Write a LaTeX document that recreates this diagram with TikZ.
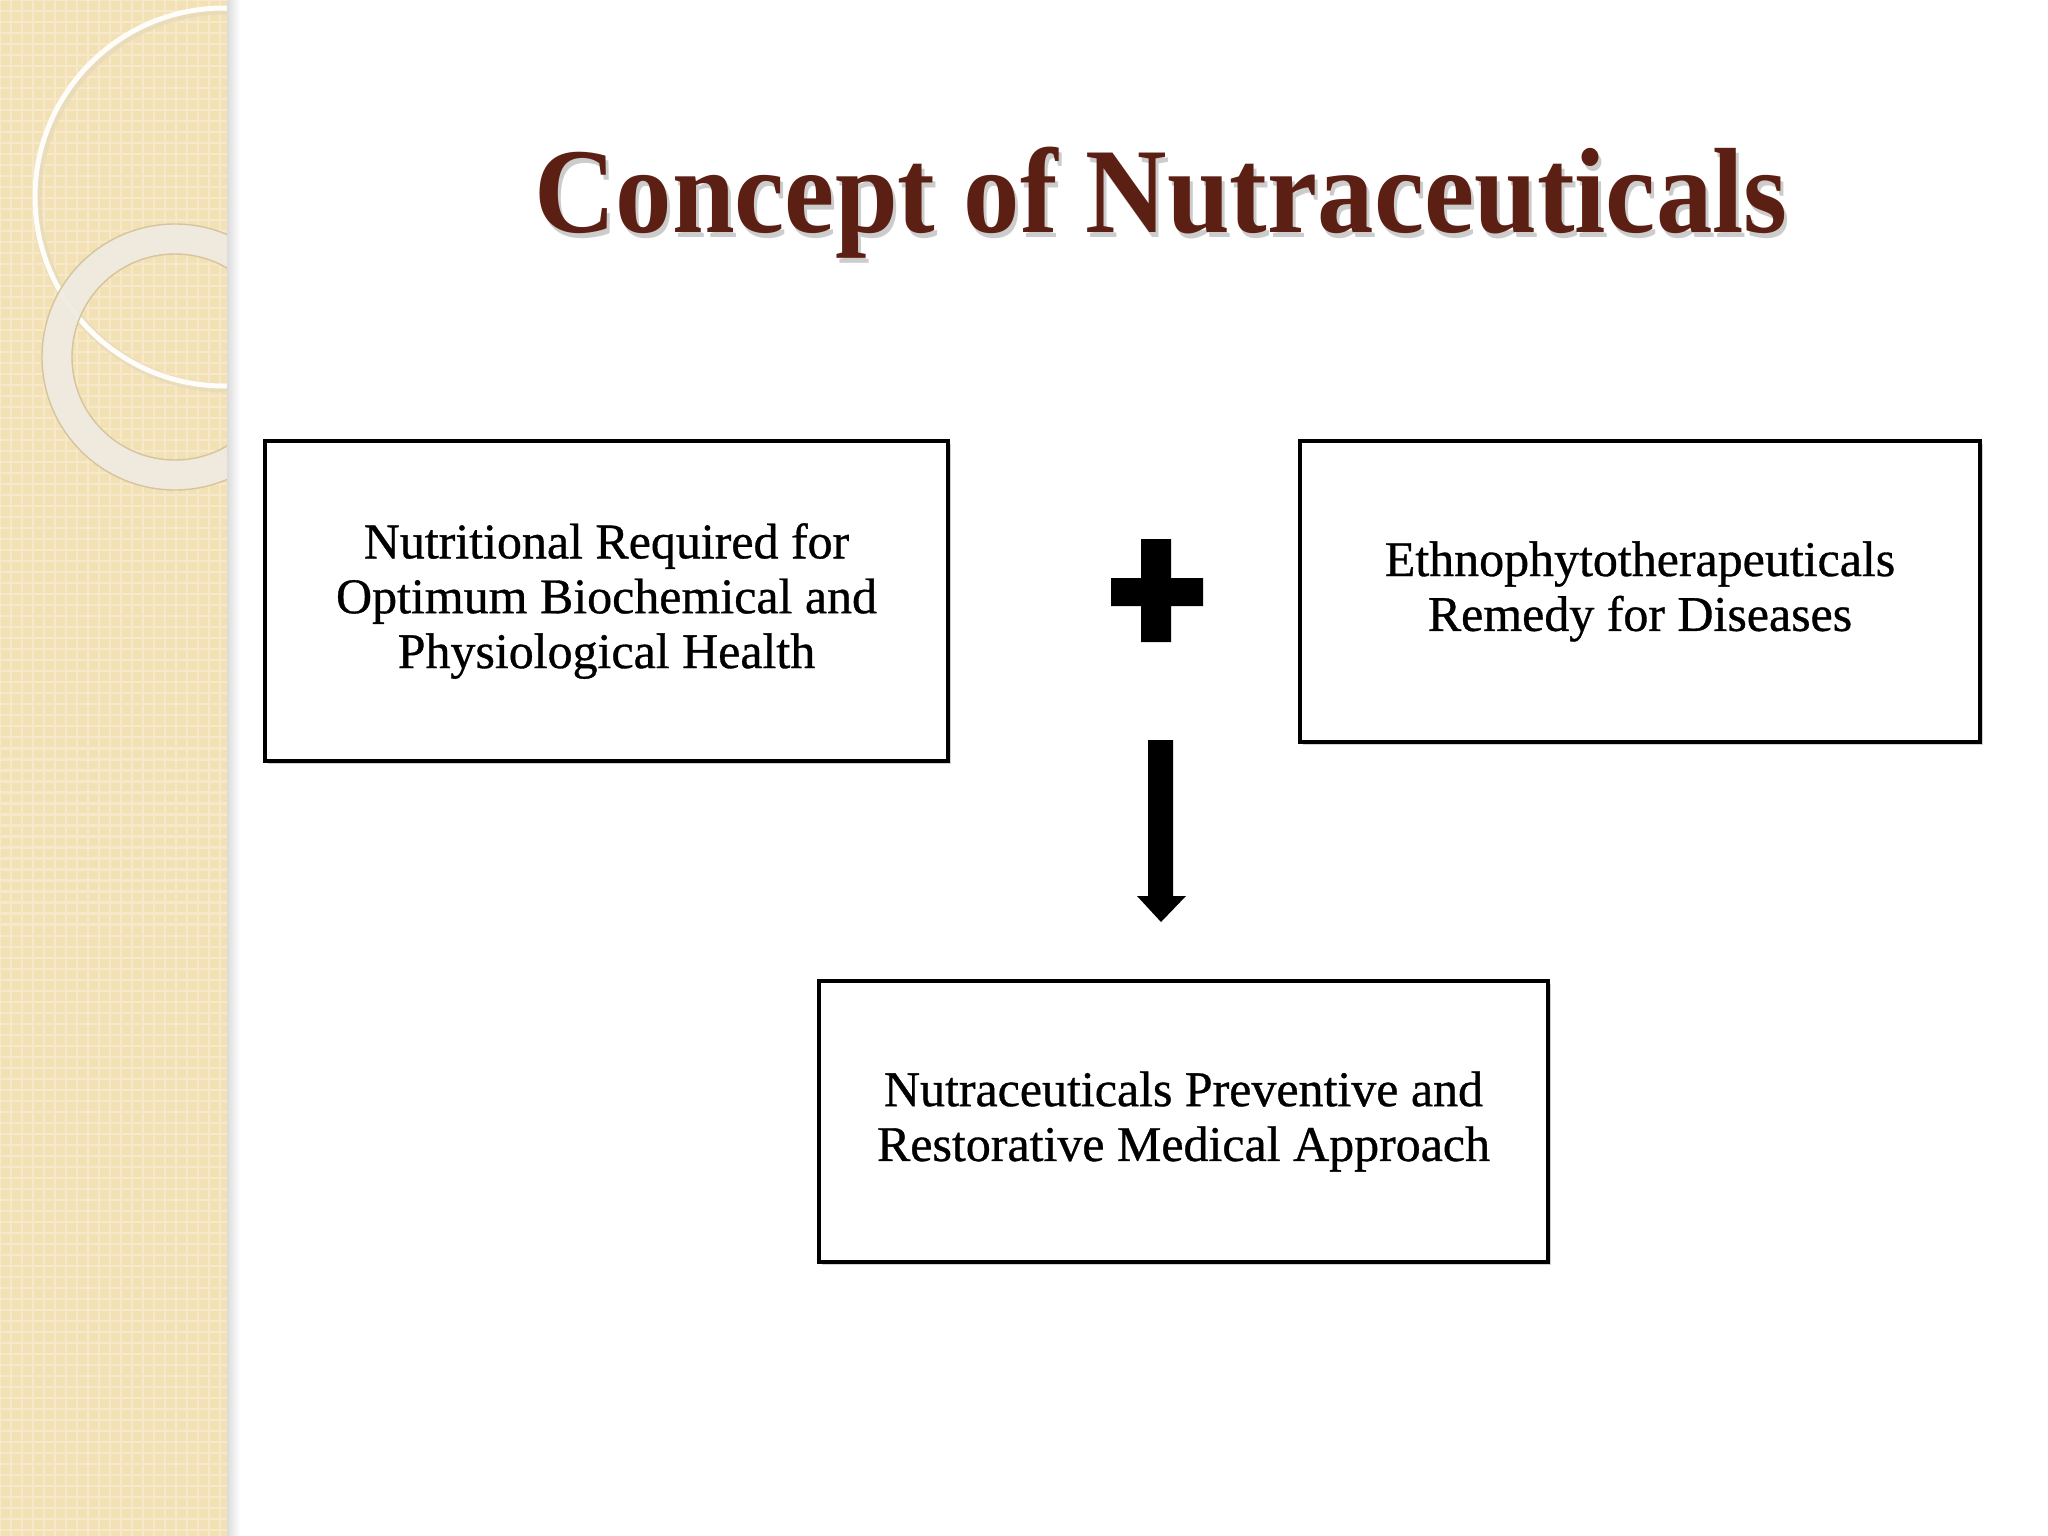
\documentclass[tikz,border=0pt]{standalone}
\usepackage{fontspec}
\setmainfont{Liberation Serif}
\newfontfamily\titlefont[FakeStretch=0.93]{Liberation Serif}
\newfontfamily\boxfont[FakeBold=0.7]{Liberation Serif}
\definecolor{stripbg}{HTML}{F3E1B6}
\definecolor{titlebrown}{HTML}{5C1F13}
\definecolor{ringcol}{HTML}{EFEBE2}
\definecolor{ringedge}{HTML}{D6C59C}
\tikzset{
  conceptbox/.style={draw=black, line width=1.1pt, fill=white, rectangle, align=center,
    font=\boxfont\fontsize{14.2}{15.6}\selectfont, inner sep=0pt},
  boxshadow/.style={fill=black!18, draw=none, rectangle, inner sep=0pt},
  solidshape/.style={fill=black, draw=none},
}
\begin{document}
\begin{tikzpicture}[x=0.01cm, y=-0.01cm]
\useasboundingbox (0,0) rectangle (2048,1536);
\fill[white] (0,0) rectangle (2048,1536);
% left decorative strip
\fill[stripbg] (0,0) rectangle (227,1536);
\begin{scope}
  \clip (0,0) rectangle (227,1536);
  \draw[white, opacity=0.25, line width=0.6pt, step=0.11cm] (0,0) grid (227,1536);
  \fill[white, opacity=0.35] (0,0) -- (182,0) arc[start angle=0, end angle=-90, radius=182] -- cycle;
  \draw[ringedge, line width=0.4pt, opacity=0.6] (182,0) arc[start angle=0, end angle=-90, radius=182];
  % big thin ring
  \draw[ringedge!70, line width=0.09cm, opacity=0.5] (226,199) circle[radius=189];
  \draw[white!92!stripbg, line width=0.05cm] (224,197) circle[radius=189];
  % thick ring
  \fill[ringcol, opacity=0.9, even odd rule] (175,357) circle[radius=133] (175,357) circle[radius=103];
  \draw[ringedge, line width=0.4pt] (175,357) circle[radius=133];
  \draw[ringedge, line width=0.4pt] (175,357) circle[radius=103];
\end{scope}
\shade[left color=black!14, right color=white] (227,0) rectangle (240,1536);
% title
\node[anchor=base, text=black, opacity=0.2, font=\titlefont\bfseries\fontsize{34.5}{40}\selectfont] at (1164,237) {Concept of Nutraceuticals};
\node[anchor=base, text=titlebrown, font=\titlefont\bfseries\fontsize{34.5}{40}\selectfont] (title) at (1161,232) {Concept of Nutraceuticals};
% box shadows
\node[boxshadow, minimum width=6.83cm, minimum height=3.20cm] at (609.5,604) {};
\node[boxshadow, minimum width=6.80cm, minimum height=3.01cm] at (1643,594.5) {};
\node[boxshadow, minimum width=7.29cm, minimum height=2.81cm] at (1186.5,1124.5) {};
% boxes
\node[conceptbox, minimum width=6.83cm, minimum height=3.20cm] (nutr) at (606.5,601)
  {Nutritional Required for\\Optimum Biochemical and\\Physiological Health};
\node[conceptbox, minimum width=6.80cm, minimum height=3.01cm] (ethno) at (1640,591.5)
  {Ethnophytotherapeuticals\\Remedy for Diseases};
\node[conceptbox, minimum width=7.29cm, minimum height=2.81cm] (result) at (1183.5,1121.5)
  {Nutraceuticals Preventive and\\Restorative Medical Approach};
% plus sign
\coordinate (plus) at (1156,590);
\fill[solidshape] (1141,539) -- (1171,539) -- (1171,578) -- (1203,578) -- (1203,606) -- (1171,606)
  -- (1171,642) -- (1141,642) -- (1141,606) -- (1111,606) -- (1111,578) -- (1141,578) -- cycle;
% down arrow
\coordinate (arrowtop) at (1160.5,740);
\coordinate (arrowtip) at (1161,922);
\fill[solidshape] (1148,740) -- (1173,740) -- (1173,896) -- (1186,896) -- (arrowtip) -- (1137,896) -- (1148,896) -- cycle;
\end{tikzpicture}
\end{document}
